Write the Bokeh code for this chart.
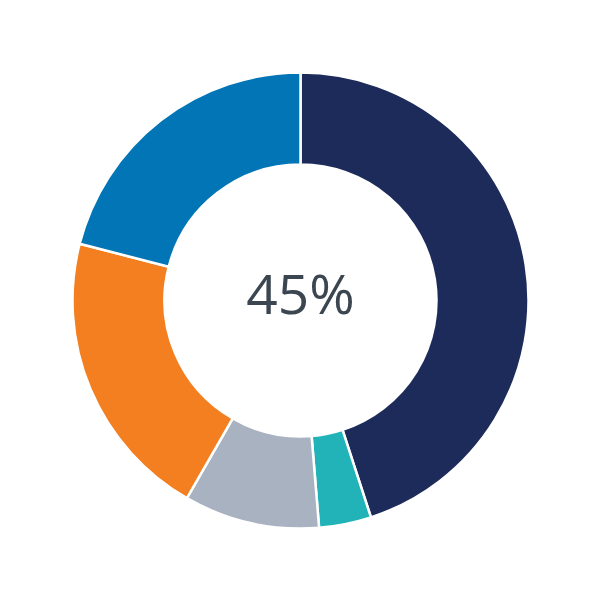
import numpy as np
from bokeh.plotting import figure
from bokeh.models import ColumnDataSource
from bokeh.core.properties import value
from bokeh.embed import file_html
from bokeh.resources import INLINE

categories = ["A", "B", "C", "D", "E"]
shares = [45.0, 3.7, 9.6, 20.7, 21.0]
colors = ["#1d2b5b", "#21b3b7", "#a8b2c0", "#f37f21", "#0175b5"]
center_label = ["45%"]

total = sum(shares)
ends = np.cumsum(shares) / total
starts = ends - np.array(shares) / total
source = ColumnDataSource(dict(
    cat=categories,
    start=np.pi / 2 - 2 * np.pi * ends,
    end=np.pi / 2 - 2 * np.pi * starts,
    color=colors,
))

W = 600
p = figure(width=W, height=W, x_range=(-W / 2, W / 2), y_range=(-W / 2, W / 2),
           output_backend="svg", toolbar_location=None, min_border=0)
p.axis.visible = False
p.grid.visible = False
p.outline_line_color = None
p.background_fill_color = "white"

p.annular_wedge(x=0, y=0, inner_radius=136, outer_radius=228,
                start_angle="start", end_angle="end", color="color",
                line_color="white", line_width=2.5, source=source)

p.text(x=[0], y=[8], text=center_label, text_align="center", text_baseline="middle",
       text_font=value("Open Sans"), text_font_size="55px", text_color="#3c4650")

open("out.html", "w").write(file_html(p, INLINE))
